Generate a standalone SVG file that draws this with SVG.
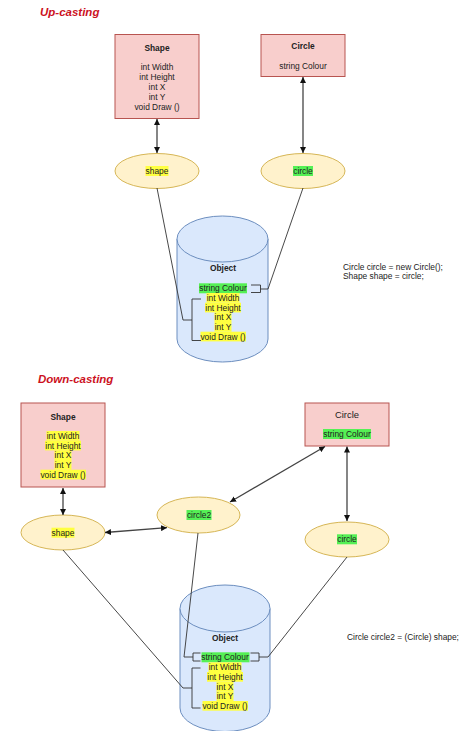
<svg xmlns="http://www.w3.org/2000/svg" width="474" height="731" viewBox="0 0 474 731">
<style>
text{font-family:"Liberation Sans",Arial,sans-serif;font-size:8.4px;fill:#222;text-anchor:middle}
.title{font-size:11.5px;font-weight:bold;font-style:italic;fill:#cc1122;text-anchor:start}
.b{font-weight:bold}
.code{text-anchor:start}
.box{fill:#f8cecc;stroke:#b85450;stroke-width:1}
.ell{fill:#fff2cc;stroke:#d6b656;stroke-width:1}
.cyl{fill:#dae8fc;stroke:#6c8ebf;stroke-width:1}
.hy{fill:#ffff40}
.hg{fill:#55f055}
.arr{fill:none;stroke:#444;stroke-width:1.3;marker-start:url(#ah);marker-end:url(#ah)}
.ln{fill:none;stroke:#333;stroke-width:0.9}
</style>
<defs>
<marker id="ah" viewBox="0 0 10 10" refX="10" refY="5" markerWidth="6" markerHeight="6" markerUnits="userSpaceOnUse" orient="auto-start-reverse">
<path d="M0,0 L10,5 L0,10 Z" fill="#111"/>
</marker>
</defs>
<rect width="474" height="731" fill="#fff"/>

<text class="title" x="40" y="16">Up-casting</text>
<text class="title" x="38" y="383">Down-casting</text>

<g id="shape-box-up">
<rect class="box" x="115" y="34.5" width="84" height="84"/>
<text class="b" x="157" y="51">Shape</text>
<text x="157" y="70.3">int Width</text>
<text x="157" y="80.3">int Height</text>
<text x="157" y="90">int X</text>
<text x="157" y="99.7">int Y</text>
<text x="157" y="109.7">void Draw ()</text>
</g>

<g id="circle-box-up">
<rect class="box" x="261" y="34.5" width="84" height="42"/>
<text class="b" x="303" y="49">Circle</text>
<text x="303" y="68.7">string Colour</text>
</g>

<g id="shape-ell-up">
<ellipse class="ell" cx="157" cy="171" rx="42" ry="17.5"/>
<rect class="hy" x="145.5" y="166" width="23" height="10"/>
<text x="157" y="174">shape</text>
</g>

<g id="circle-ell-up">
<ellipse class="ell" cx="303" cy="171" rx="42" ry="17.5"/>
<rect class="hg" x="293" y="166" width="20" height="10"/>
<text x="303" y="174">circle</text>
</g>

<g id="object-up">
<path class="cyl" d="M177,239 A45.5,23 0 0 1 268,239 L268,339 A45.5,23 0 0 1 177,339 Z"/>
<path class="cyl" d="M177,239 A45.5,23 0 0 0 268,239" fill="none"/>
<text class="b" x="223" y="271.3">Object</text>
<rect class="hg" x="199" y="283.3" width="48" height="10"/>
<rect class="hy" x="206.5" y="293" width="33" height="9.7"/>
<rect class="hy" x="205" y="302.7" width="36" height="9.7"/>
<rect class="hy" x="214.5" y="312.3" width="17" height="9.7"/>
<rect class="hy" x="214.5" y="322" width="17" height="9.7"/>
<rect class="hy" x="200.5" y="331.7" width="45.5" height="9.7"/>
<text x="223" y="291.3">string Colour</text>
<text x="223" y="300.7">int Width</text>
<text x="223" y="310.7">int Height</text>
<text x="223" y="320.3">int X</text>
<text x="223" y="330">int Y</text>
<text x="223" y="339.7">void Draw ()</text>
</g>

<g id="code-up">
<text class="code" x="343" y="270">Circle circle = new Circle();</text>
<text class="code" x="343" y="279">Shape shape = circle;</text>
</g>

<g id="shape-box-down">
<rect class="box" x="21" y="403" width="84" height="84"/>
<text class="b" x="63" y="419.7">Shape</text>
<rect class="hy" x="46.5" y="431" width="33" height="9.7"/>
<rect class="hy" x="45" y="440.7" width="36" height="9.7"/>
<rect class="hy" x="54.5" y="450.3" width="17" height="9.7"/>
<rect class="hy" x="54.5" y="460" width="17" height="9.7"/>
<rect class="hy" x="40.5" y="469.7" width="45.5" height="9.7"/>
<text x="63" y="439">int Width</text>
<text x="63" y="448.7">int Height</text>
<text x="63" y="458.3">int X</text>
<text x="63" y="468.3">int Y</text>
<text x="63" y="478.3">void Draw ()</text>
</g>

<g id="circle-box-down">
<rect class="box" x="305" y="403" width="84" height="43"/>
<text x="347" y="418.3" style="font-size:9.4px">Circle</text>
<rect class="hg" x="323" y="429" width="48" height="10"/>
<text x="347" y="437">string Colour</text>
</g>

<g id="shape-ell-down">
<ellipse class="ell" cx="63" cy="532.5" rx="42" ry="17.5"/>
<rect class="hy" x="51.5" y="527.7" width="23" height="10"/>
<text x="63" y="535.7">shape</text>
</g>

<g id="circle2-ell-down">
<ellipse class="ell" cx="198.5" cy="515" rx="41.5" ry="18"/>
<rect class="hg" x="186.5" y="510" width="25" height="10"/>
<text x="199" y="518">circle2</text>
</g>

<g id="circle-ell-down">
<ellipse class="ell" cx="347" cy="539.5" rx="42" ry="17.5"/>
<rect class="hg" x="337" y="534.3" width="20" height="10"/>
<text x="347" y="542.3">circle</text>
</g>

<g id="object-down">
<path class="cyl" d="M180,608.5 A45,23.5 0 0 1 270,608.5 L270,708 A45,23.5 0 0 1 180,708 Z"/>
<path class="cyl" d="M180,608.5 A45,23.5 0 0 0 270,608.5" fill="none"/>
<text class="b" x="225" y="640.7">Object</text>
<rect class="hg" x="201.5" y="652.3" width="48" height="10"/>
<rect class="hy" x="208.5" y="662.3" width="33" height="9.7"/>
<rect class="hy" x="207" y="672" width="36" height="9.7"/>
<rect class="hy" x="216.5" y="681.7" width="17" height="9.7"/>
<rect class="hy" x="216.5" y="691.3" width="17" height="9.7"/>
<rect class="hy" x="202.5" y="701" width="45.5" height="9.7"/>
<text x="225" y="660.3">string Colour</text>
<text x="225" y="670.3">int Width</text>
<text x="225" y="680">int Height</text>
<text x="225" y="689.7">int X</text>
<text x="225" y="699">int Y</text>
<text x="225" y="709">void Draw ()</text>
</g>

<g id="code-down">
<text class="code" x="347" y="640">Circle circle2 = (Circle) shape;</text>
</g>

<g id="connectors">
<path class="arr" d="M157,119 L157,153"/>
<path class="arr" d="M303,77 L303,153"/>
<path class="ln" d="M157,188 L183,320 L192,320"/>
<path class="ln" d="M201,299 L192,299 L192,340.5 L201,340.5"/>
<path class="ln" d="M303,188 L268,289 L260.5,289"/>
<path class="ln" d="M251,285 L260.5,285 L260.5,292.5 L251,292.5"/>

<path class="arr" d="M63,488 L63,515"/>
<path class="arr" d="M105,532.5 L167,527.7"/>
<path class="arr" d="M230,502 L325,446.5"/>
<path class="arr" d="M347,446.5 L347,521"/>
<path class="ln" d="M198,533 L184,657 L193,657"/>
<path class="ln" d="M200.5,653 L193,653 L193,661 L200.5,661"/>
<path class="ln" d="M347,557 L268,657 L259,657"/>
<path class="ln" d="M250.5,653 L259,653 L259,661 L250.5,661"/>
<path class="ln" d="M63,550 L183,688 L192,688"/>
<path class="ln" d="M200.5,668 L192,668 L192,708 L200.5,708"/>
</g>
</svg>
